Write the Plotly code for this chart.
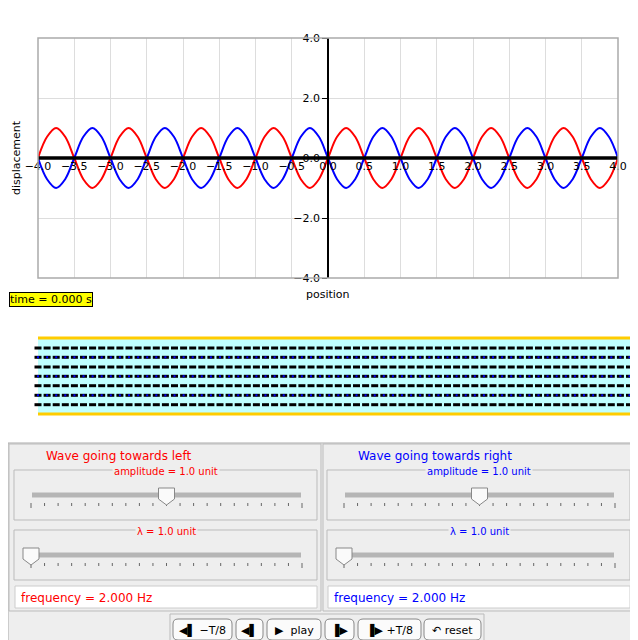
import plotly.graph_objects as go

W, H = 638, 640
# ---- data ----
pos = [-4 + 0.125 * i for i in range(65)]
red_pattern = [0, 0.707, 1, 0.707, 0, -0.707, -1, -0.707]
blue_pattern = [0, -0.707, -1, -0.707, 0, 0.707, 1, 0.707]
red_wave = [red_pattern[i % 8] for i in range(65)]
blue_wave = [blue_pattern[i % 8] for i in range(65)]
sum_wave = [r + b for r, b in zip(red_wave, blue_wave)]
x_ticks = [-4, -3.5, -3, -2.5, -2, -1.5, -1, -0.5, 0, 0.5, 1, 1.5, 2, 2.5, 3, 3.5, 4]
y_ticks = [-4, -2, 0, 2, 4]
particle_cols = [30 + 9.1 * k for k in range(67)]
particle_rows = [340, 349.3, 359, 368.3, 377.7, 387.3, 396.7]
blue_rows = [349.3, 368.3, 387.3]

fig = go.Figure()
fig.add_trace(go.Scatter(x=pos, y=red_wave, mode="lines", line=dict(color="#ff0000", width=2, shape="spline"), hoverinfo="skip"))
fig.add_trace(go.Scatter(x=pos, y=blue_wave, mode="lines", line=dict(color="#0000ff", width=2, shape="spline"), hoverinfo="skip"))
fig.add_trace(go.Scatter(x=pos, y=sum_wave, mode="lines", line=dict(color="#000000", width=3.5), hoverinfo="skip"))

# particles
for r in particle_rows:
    fig.add_trace(go.Scatter(x=particle_cols, y=[r] * len(particle_cols), mode="markers", xaxis="x2", yaxis="y2",
                             marker=dict(symbol="line-ew", size=5, line=dict(color="black", width=3)), hoverinfo="skip"))
for r in blue_rows:
    fig.add_trace(go.Scatter(x=particle_cols, y=[r] * len(particle_cols), mode="markers", xaxis="x2", yaxis="y2",
                             marker=dict(symbol="square", size=2, color="#0000ff", line=dict(width=0)), hoverinfo="skip"))

zero_y = 1 - 150 / H
fig.update_layout(
    width=W, height=H, margin=dict(l=0, r=0, t=0, b=0, autoexpand=False), showlegend=False,
    paper_bgcolor="white", plot_bgcolor="rgba(0,0,0,0)",
    font=dict(family="DejaVu Sans", size=11, color="black"),
    xaxis=dict(range=[-4, 4], domain=[30 / W, 610 / W], anchor="free", position=zero_y, automargin=False,
               tickvals=x_ticks, tickformat=".1f", ticks="", showline=False, zeroline=False,
               showgrid=True, gridcolor="#dddddd", tickfont=dict(size=11), fixedrange=True),
    yaxis=dict(range=[-4, 4], domain=[1 - 270 / H, 1 - 30 / H], anchor="free", position=320 / W, automargin=False,
               tickvals=y_ticks, tickformat=".1f", ticks="outside", ticklen=5, tickcolor="black",
               showline=True, linecolor="black", linewidth=1.5, zeroline=False,
               showgrid=True, gridcolor="#dddddd", tickfont=dict(size=11), fixedrange=True),
    xaxis2=dict(range=[0, W], domain=[0, 1], anchor="y2", visible=False, fixedrange=True, automargin=False),
    yaxis2=dict(range=[H, 0], domain=[0, 1], anchor="x2", visible=False, fixedrange=True, automargin=False),
)

shapes = []
ann = []
def rect(x0, y0, x1, y1, fill=None, line="#999999", lw=1, layer="above"):
    shapes.append(dict(type="rect", xref="x2", yref="y2", x0=x0, y0=y0, x1=x1, y1=y1,
                       fillcolor=fill if fill else "rgba(0,0,0,0)", line=dict(color=line, width=lw), layer=layer))
def text(x, y, t, color="black", size=11, xanchor="center", **kw):
    ann.append(dict(xref="x2", yref="y2", x=x, y=y, text=t, showarrow=False, xanchor=xanchor, yanchor="middle",
                    font=dict(color=color, size=size, family="DejaVu Sans"), **kw))

# plot frame
rect(30, 30, 610, 270, line="#aaaaaa", lw=1.5)
text(320, 286, "position", size=11)
ann.append(dict(xref="x2", yref="y2", x=8, y=150, text="displacement", showarrow=False, textangle=-90,
                font=dict(size=11, family="DejaVu Sans")))
text(1, 291, "time = 0.000 s", size=11, xanchor="left", bgcolor="#ffff00", bordercolor="black", borderwidth=1, borderpad=0)

# medium band
rect(30, 331, 640, 406, fill="#c0ffff", line="rgba(0,0,0,0)", layer="below")
shapes.append(dict(type="line", xref="x2", yref="y2", x0=30, x1=640, y0=330, y1=330, line=dict(color="#ffcc00", width=3)))
shapes.append(dict(type="line", xref="x2", yref="y2", x0=30, x1=640, y0=406, y1=406, line=dict(color="#ffcc00", width=3)))

# control panel
rect(0, 435, 638, 640, fill="#eeeeee", line="#aaaaaa")
rect(1, 436, 313, 603, fill="#eeeeee", line="#bbbbbb")
rect(315, 436, 637, 603, fill="#eeeeee", line="#bbbbbb")

def panel(ox, color, title, tx):
    text(ox + tx, 448, title, color=color, size=12, xanchor="left")
    for (y0, label, thumb) in [(462, "amplitude = 1.0 unit", 0.5), (522, "λ = 1.0 unit", 0.0)]:
        rect(ox + 6, y0, ox + 309, y0 + 50, line="#bbbbbb")
        text(ox + 158, y0 + 1, label, color=color, size=10, bgcolor="#eeeeee")
        ty = y0 + 25
        shapes.append(dict(type="line", xref="x2", yref="y2", x0=ox + 24, x1=ox + 293, y0=ty, y1=ty,
                           line=dict(color="#b5b5b5", width=5)))
        for k in range(21):
            xx = ox + 23 + k * (271 / 20)
            shapes.append(dict(type="line", xref="x2", yref="y2", x0=xx, x1=xx, y0=ty + 8,
                               y1=ty + (13 if k in (0, 20) else 11), line=dict(color="#666666", width=1)))
        cx = ox + 23 + thumb * 271
        shapes.append(dict(type="path", xref="x2", yref="y2",
                           path=f"M {cx-8},{ty-7} L {cx+8},{ty-7} L {cx+8},{ty+4} L {cx},{ty+10} L {cx-8},{ty+4} Z",
                           fillcolor="#fafafa", line=dict(color="#888888", width=1)))
    rect(ox + 7, 578, ox + 309, 600, fill="white", line="#cccccc")
    text(ox + 11, 590, "frequency = 2.000 Hz", color=color, size=12, xanchor="left")

panel(0, "#ff0000", "Wave going towards left", 36)
panel(313, "#0000ff", "Wave going towards right", 35)

buttons = [(165, 224, "◀▌ −T/8"), (228, 255, "◀▌"), (259, 313, "▶  play"), (317, 346, "▐▶"),
           (350, 413, "▐▶ +T/8"), (416, 473, "↶ reset")]
for x0, x1, lab in buttons:
    shapes.append(dict(type="path", xref="x2", yref="y2",
                       path=f"M {x0+5},{611} L {x1-5},{611} Q {x1},{611} {x1},{616} L {x1},{627} Q {x1},{632} {x1-5},{632} "
                            f"L {x0+5},{632} Q {x0},{632} {x0},{627} L {x0},{616} Q {x0},{611} {x0+5},{611} Z",
                       fillcolor="#fbfbfb", line=dict(color="#888888", width=1)))
    text((x0 + x1) / 2, 622, lab, size=11)
rect(162, 606, 476, 637, line="#bbbbbb")

fig.update_layout(shapes=shapes, annotations=ann)
fig.write_html("out.html")
